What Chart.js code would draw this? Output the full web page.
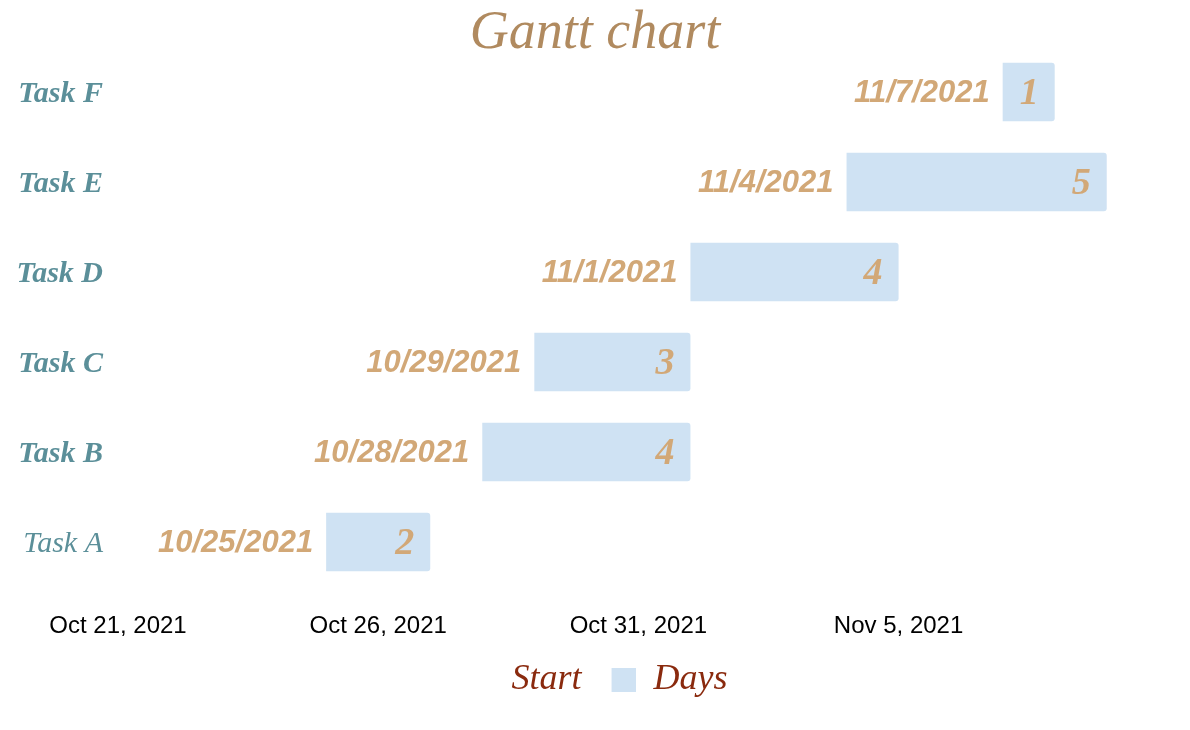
<!DOCTYPE html>
<html>
<head>
<meta charset="utf-8">
<script src="https://cdn.jsdelivr.net/npm/chart.js@4/dist/chart.umd.min.js"></script>
<style>
  html, body { margin: 0; padding: 0; background: #fff; }
  #wrap { width: 1190px; height: 730px; }
</style>
</head>
<body>
<div id="wrap"><canvas id="gantt"></canvas></div>
<script>
// 작업 목록 / 시작일 / 기간(일)
const tasks = ['Task A', 'Task B', 'Task C', 'Task D', 'Task E', 'Task F'];
const startDates = ['2021-10-25', '2021-10-28', '2021-10-29', '2021-11-01', '2021-11-04', '2021-11-07'];
const durations = [2, 4, 3, 4, 5, 1];
const tickDates = ['2021-10-21', '2021-10-26', '2021-10-31', '2021-11-05'];
const axisMin = '2021-10-21';
const axisMax = '2021-11-10';

const barColor = '#cfe2f3';

// 날짜 -> 일 번호 (UTC 기준)
const toDay = (s)=> Date.UTC(+s.slice(0, 4), +s.slice(5, 7) - 1, +s.slice(8, 10)) / 864e5;
const startDays = startDates.map(toDay);
const tickDays = tickDates.map(toDay);

const fmtTick = (d)=> new Date(d * 864e5).toLocaleDateString('en-US', {
    month: 'short', day: 'numeric', year: 'numeric', timeZone: 'UTC'
});
const fmtStart = (d)=> {
    const t = new Date(d * 864e5);
    return `${t.getUTCMonth() + 1}/${t.getUTCDate()}/${t.getUTCFullYear()}`;
};

// 범례 상자 (왼쪽은 여백)
const legendBox = document.createElement('canvas');
legendBox.width = 31;
legendBox.height = 24;
const lb = legendBox.getContext('2d');
lb.fillStyle = barColor;
lb.fillRect(7, 0, 24, 24);

// 막대 옆 라벨 그리기
const barLabels = {
    id: 'barLabels',
    afterDatasetsDraw(chart) {
        const ctx = chart.ctx;
        ctx.save();
        ctx.textBaseline = 'middle';
        ctx.textAlign = 'right';
        ctx.fillStyle = '#d2a877';
        chart.getDatasetMeta(0).data.forEach((bar, i)=>{
            ctx.font = 'italic bold 31px "Liberation Sans", Arial, sans-serif';
            ctx.fillText(fmtStart(startDays[i]), bar.x - 13, bar.y + 1);
        });
        chart.getDatasetMeta(1).data.forEach((bar, i)=>{
            ctx.font = 'italic bold 38px "Liberation Serif", serif';
            ctx.fillText(String(durations[i]), bar.x - 16, bar.y + 2);
        });
        ctx.restore();
    }
};

const ctx = document.getElementById('gantt').getContext('2d');
const myChart = new Chart(ctx, {
    type: 'bar',
    data: {
        labels: tasks,
        datasets: [{
            label: 'Start',
            data: startDays,
            backgroundColor: 'rgba(0, 0, 0, 0)',
            borderWidth: 0
        }, {
            label: 'Days',
            data: durations,
            backgroundColor: barColor,
            borderRadius: 3,
            borderSkipped: 'start'
        }]
    },
    plugins: [barLabels],
    options: {
        indexAxis: 'y',
        responsive: true,
        maintainAspectRatio: false,
        animation: false,
        barPercentage: 0.9,
        categoryPercentage: 0.72,
        layout: { padding: { left: 0, right: 0, top: 0, bottom: 22 } },
        plugins: {
            title: {
                display: true,
                text: 'Gantt chart',
                color: '#b08a5f',
                font: { family: '"Liberation Serif", serif', size: 54, style: 'italic', weight: 'normal', lineHeight: 0.5 },
                padding: { top: 20, bottom: 0 }
            },
            legend: {
                position: 'bottom',
                labels: {
                    color: '#8a2a0e',
                    usePointStyle: true,
                    pointStyleWidth: 31,
                    boxHeight: 24,
                    padding: 23,
                    font: { family: '"Liberation Serif", serif', size: 36, style: 'italic' },
                    generateLabels: (chart)=>{
                        const items = Chart.defaults.plugins.legend.labels.generateLabels(chart);
                        items[0].pointStyle = 'rect';
                        items[1].pointStyle = legendBox;
                        return items;
                    }
                }
            },
            tooltip: { enabled: false }
        },
        scales: {
            x: {
                type: 'linear',
                stacked: true,
                min: toDay(axisMin),
                max: toDay(axisMax) + 0.6,
                grid: { display: false },
                border: { display: false },
                afterBuildTicks: (axis)=>{
                    axis.ticks = tickDays.map((v)=> ({ value: v }));
                },
                afterFit: (axis)=>{
                    axis.height = 52;
                },
                ticks: {
                    color: '#000',
                    padding: 17,
                    maxRotation: 0,
                    font: { family: '"Liberation Sans", Arial, sans-serif', size: 24 },
                    callback: (value)=> fmtTick(value)
                }
            },
            y: {
                stacked: true,
                reverse: true,
                grid: { display: false },
                border: { display: false },
                afterFit: (axis)=>{
                    axis.width = 118;
                },
                ticks: {
                    color: '#5b8f99',
                    padding: 7,
                    labelOffset: 2,
                    font: (c)=> ({
                        family: '"Liberation Serif", serif',
                        size: 30,
                        style: 'italic',
                        weight: c.index === 0 ? 'normal' : 'bold'
                    })
                }
            }
        }
    }
});
</script>
</body>
</html>
